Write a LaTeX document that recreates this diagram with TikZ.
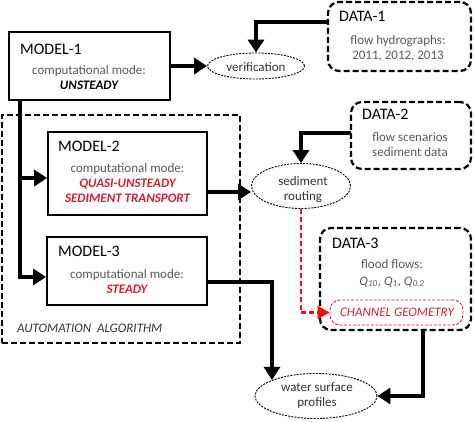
\documentclass[tikz,border=0pt]{standalone}
\usepackage{fontspec}
\setmainfont{Carlito}
\usetikzlibrary{shapes.geometric,arrows.meta,calc}
\definecolor{txtgray}{HTML}{595959}
\definecolor{redt}{HTML}{D42030}
\definecolor{reda}{HTML}{EE1111}
\definecolor{ellt}{HTML}{333333}
\begin{document}
\begin{tikzpicture}[x=1pt,y=-1pt,
  modelbox/.style={draw,line width=1.8pt,inner sep=0pt},
  databox/.style={draw,line width=2.2pt,dash pattern=on 6pt off 3pt,rounded corners=11pt,inner sep=0pt},
  autobox/.style={draw,line width=2pt,dash pattern=on 6pt off 3pt,inner sep=0pt},
  ell/.style={ellipse,draw,line width=0.9pt,dash pattern=on 2pt off 1.2pt,inner sep=0pt},
  geombox/.style={draw=redt,line width=0.9pt,dash pattern=on 3pt off 1.5pt,rounded corners=10pt,inner sep=0pt},
  title/.style={anchor=base west,font=\fontsize{16}{18}\selectfont,inner sep=0pt},
  body/.style={anchor=base,font=\fontsize{13}{15}\selectfont,text=txtgray,inner sep=0pt},
  mode/.style={anchor=base,font=\fontsize{13}{15}\selectfont\bfseries\itshape,inner sep=0pt},
  elltext/.style={anchor=base,font=\fontsize{13}{15}\selectfont,text=ellt,inner sep=0pt},
  bigarrow/.style={line width=4pt,line join=miter,-{Triangle[length=13pt,width=16pt]}},
  redarrow/.style={draw=reda,line width=2.6pt,dash pattern=on 5pt off 3pt,-{Triangle[length=12pt,width=13pt]}}
]
\useasboundingbox (0,0) rectangle (474,422);

% automation box
\node[autobox,minimum width=238pt,minimum height=228pt] (auto) at (121,229) {};
\node[anchor=base west,font=\fontsize{13}{15}\selectfont\itshape,text=ellt,inner sep=0pt] (autotxt) at (17,332) {AUTOMATION\ \ ALGORITHM};

% model boxes
\node[modelbox,minimum width=161pt,minimum height=68pt] (m1) at (89.5,66) {};
\node[title] (m1t) at (20,55) {MODEL-1};
\node[body] (m1b) at (89,75) {computational mode:};
\node[mode] (m1m) at (89,90) {UNSTEADY};

\node[modelbox,fill=white,minimum width=159pt,minimum height=83pt] (m2) at (127.5,173.5) {};
\node[title] (m2t) at (58,152) {MODEL-2};
\node[body] (m2b) at (127.5,173) {computational mode:};
\node[mode,text=redt] (m2m) at (127.5,188) {QUASI-UNSTEADY};
\node[mode,text=redt] (m2n) at (127.5,203) {SEDIMENT TRANSPORT};

\node[modelbox,fill=white,minimum width=160pt,minimum height=68pt] (m3) at (127,271) {};
\node[title] (m3t) at (58,257) {MODEL-3};
\node[body] (m3b) at (127,278) {computational mode:};
\node[mode,text=redt] (m3m) at (127,294) {STEADY};

% data boxes
\node[databox,minimum width=143pt,minimum height=69pt] (d1) at (399.5,36.5) {};
\node[title] (d1t) at (339,22) {DATA-1};
\node[body] (d1a) at (398,45) {flow hydrographs:};
\node[body] (d1b) at (398,60) {2011, 2012, 2013};

\node[databox,minimum width=120pt,minimum height=67pt] (d2) at (411,135.5) {};
\node[title] (d2t) at (362,120) {DATA-2};
\node[body] (d2a) at (410,142) {flow scenarios};
\node[body] (d2b) at (410,157) {sediment data};

\node[databox,minimum width=151pt,minimum height=102pt] (d3) at (395.5,279) {};
\node[title] (d3t) at (332,248) {DATA-3};
\node[body] (d3a) at (392,269) {flood flows:};
\node[body] (d3b) at (392,285) {\textit{Q}\textsubscript{\textit{10}}, \textit{Q}\textsubscript{\textit{1}}, \textit{Q}\textsubscript{\textit{0.2}}};
\node[geombox,minimum width=133pt,minimum height=25pt] (cg) at (396.5,312.5) {};
\node[anchor=base,font=\fontsize{13}{15}\selectfont\itshape,text=redt,inner sep=0pt] (cgt) at (397,316) {CHANNEL GEOMETRY};

% ellipses
\node[ell,minimum width=97pt,minimum height=26pt] (ver) at (256,66) {};
\node[elltext] (vert) at (256,72) {verification};
\node[ell,minimum width=99pt,minimum height=45pt] (sr) at (301,186) {};
\node[elltext] (srt1) at (303,186) {sediment};
\node[elltext] (srt2) at (303,201) {routing};
\node[ell,minimum width=122pt,minimum height=45pt] (wsp) at (316,396) {};
\node[elltext] (wspt1) at (317,391) {water surface};
\node[elltext] (wspt2) at (317,406) {profiles};

% connectors
\coordinate (trunk) at (20,100);
\coordinate (j2) at (20,178);
\coordinate (j3) at (20,277);
\coordinate (m2out) at (207,192);
\coordinate (m3out) at (207,282);
\coordinate (d1out) at (328,22);
\coordinate (d2out) at (351,133);
\coordinate (d3out) at (423,330);

\draw[bigarrow] (m1.east) -- (ver.west);
\draw[bigarrow] (d1out) -| (ver.north);
\draw[bigarrow] (trunk) |- (m3.west |- j3);
\draw[bigarrow] (j2) -- (m2.west |- j2);
\draw[bigarrow] (m2out) -- (sr.west |- m2out);
\draw[bigarrow] (d2out) -| (sr.north);
\draw[bigarrow] (m3out) -| (wsp.160);
\draw[bigarrow] (d3out) |- (wsp.east);
\draw[redarrow] (sr.south) |- (cg.west);
\end{tikzpicture}
\end{document}
